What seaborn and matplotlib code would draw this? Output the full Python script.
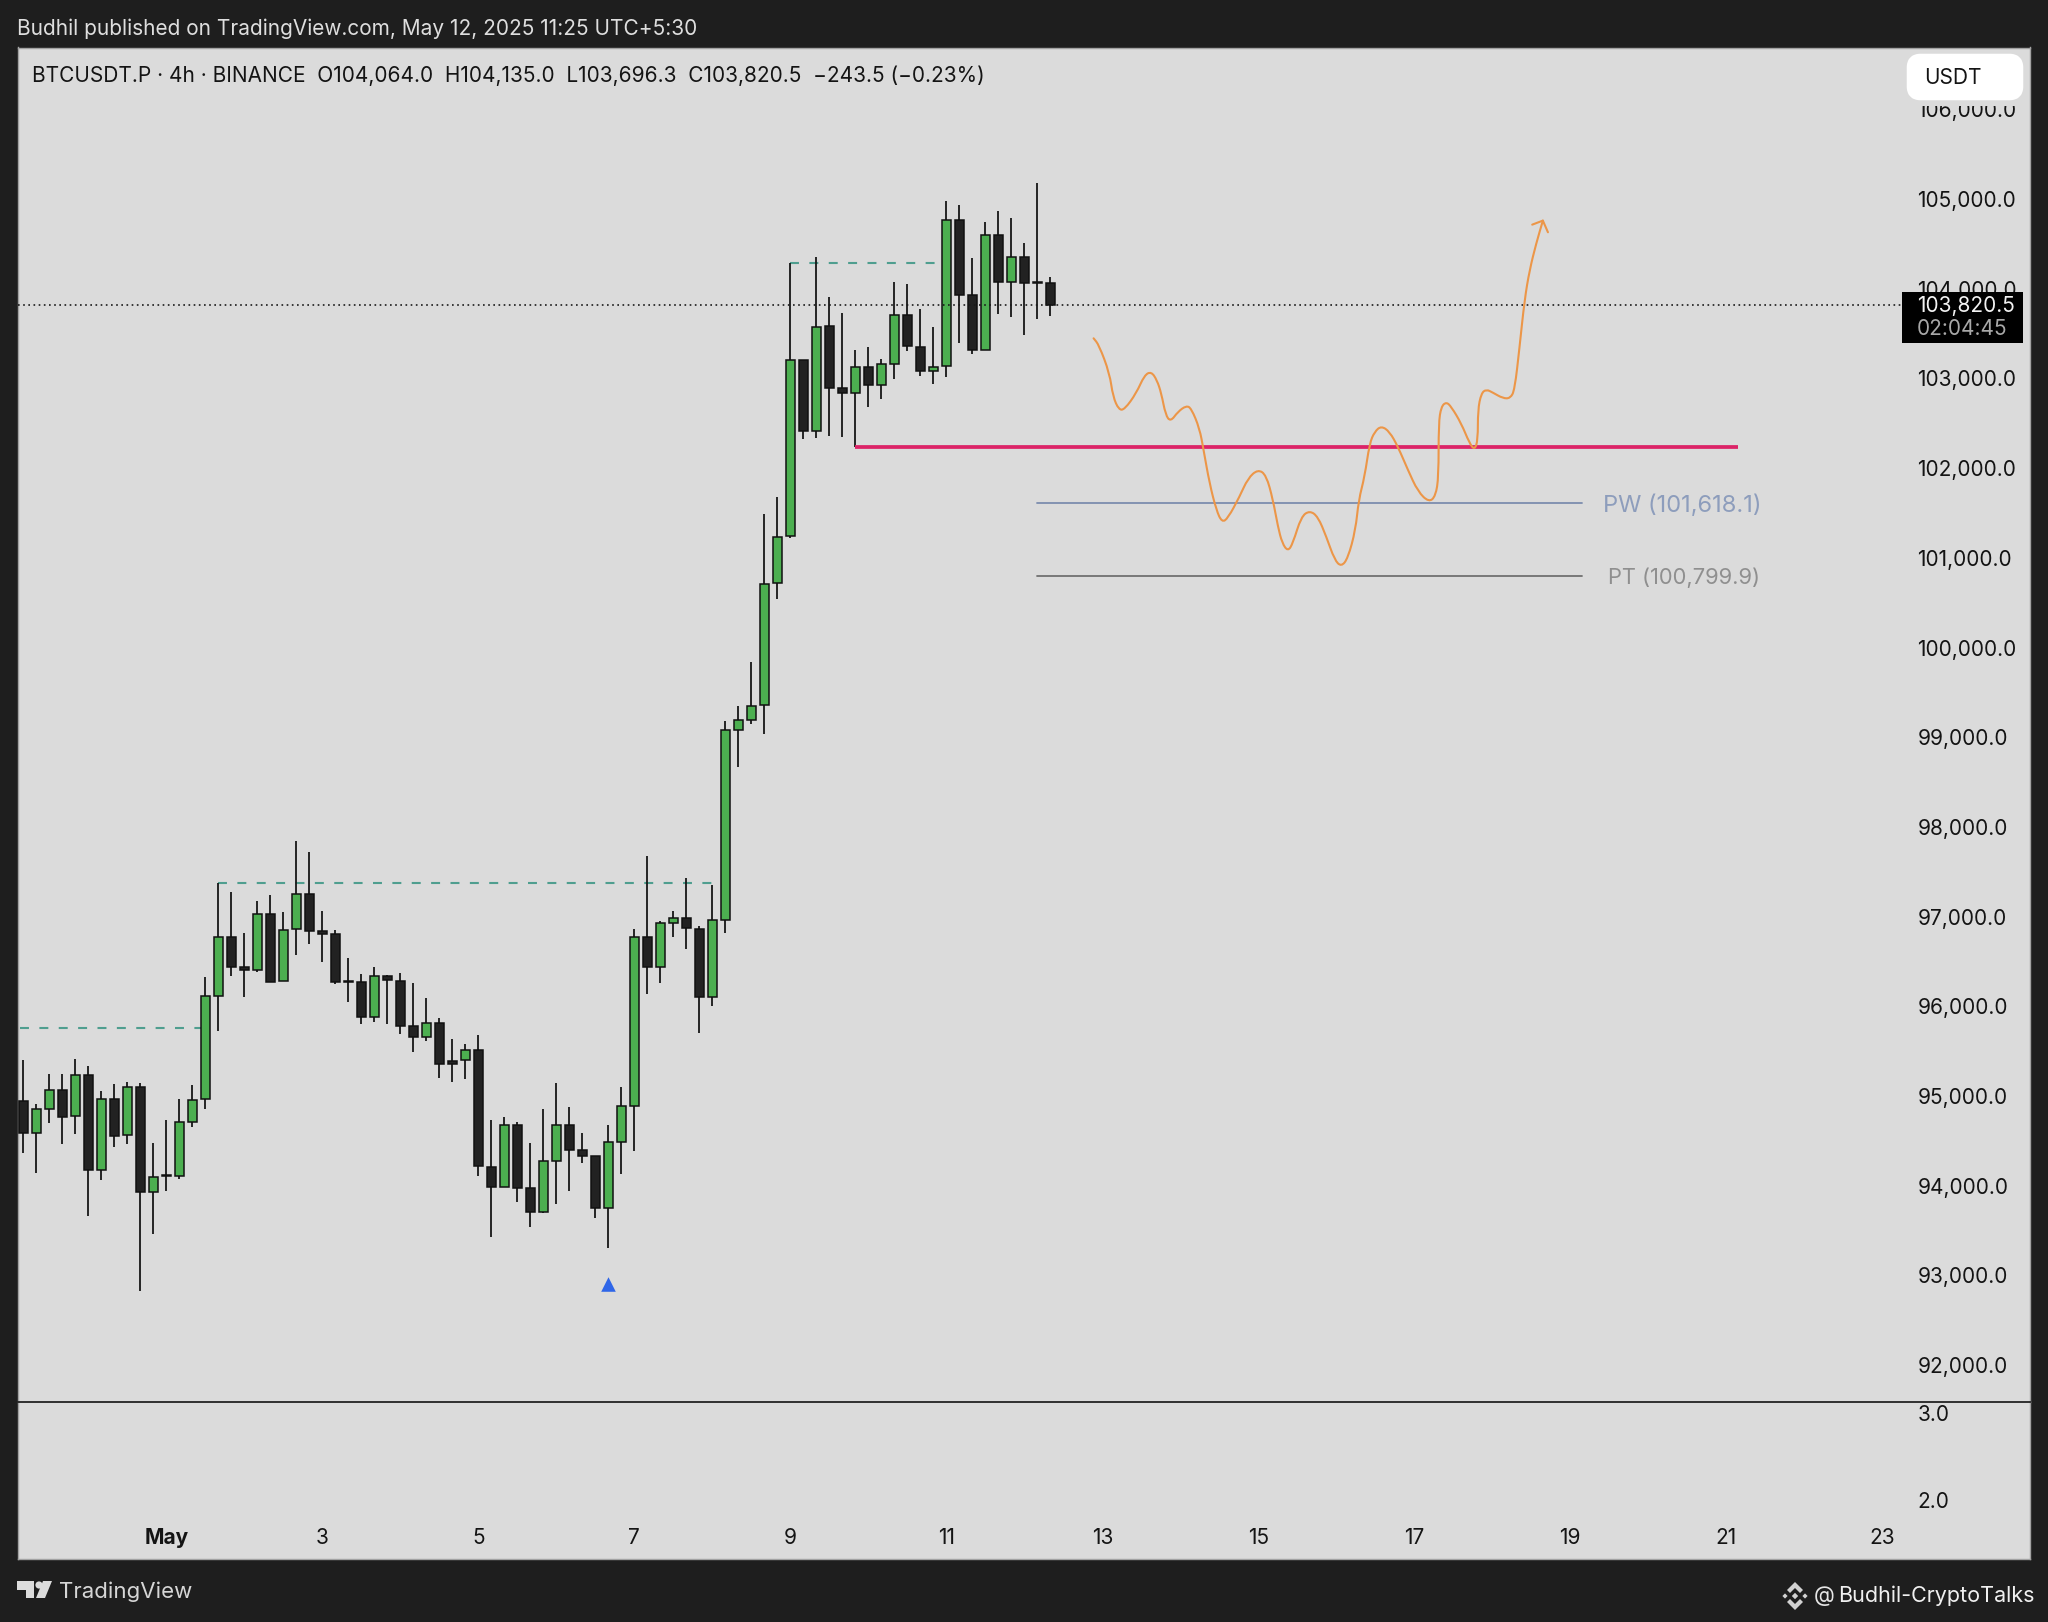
# btc 4h chart, redrawn from a TradingView screenshot

import numpy as np
import pandas as pd
import matplotlib
matplotlib.use("Agg")
import matplotlib.pyplot as plt
from matplotlib.patches import FancyBboxPatch, PathPatch, Polygon, Rectangle
from matplotlib.path import Path
from matplotlib.transforms import IdentityTransform
import seaborn as sns

# Candle values
opens = [94945, 94584, 94859, 95063, 94773, 95231, 94179, 94963, 94562, 95100,
         93934, 94119, 94108, 94714, 94963, 96119, 96776, 96435, 96409, 97029,
         96278, 96862, 97248, 96836, 96806, 96282, 96267, 95881, 96338, 96286,
         95777, 95662, 95818, 95394, 95405, 95513, 94212, 93982, 94677, 93971,
         93711, 94279, 94677, 94402, 94335, 93755, 94491, 94892, 96776, 96438,
         96925, 96981, 96866, 96108, 96966, 99080, 99195, 99355, 100715, 101243,
         103205, 102410, 103580, 102893, 102841, 103127, 102926, 103164, 103703, 103354,
         103082, 103134, 104769, 103933, 103320, 104598, 104074, 104353, 104071, 104064]
highs = [95400, 94911, 95245, 95245, 95409, 95335, 95060, 95134, 95160, 95141,
         94472, 94733, 94963, 95123, 96330, 97371, 97278, 96821, 97174, 97241,
         97055, 97847, 97717, 97066, 96851, 96535, 96360, 96442, 96349, 96375,
         96256, 96096, 95866, 95636, 95580, 95680, 94733, 94770, 94714, 94480,
         94852, 95149, 94874, 94584, 94335, 94677, 95104, 96862, 97679, 96951,
         97066, 97427, 96895, 97349, 99184, 99351, 99842, 101484, 101674, 104290,
         103205, 104349, 103903, 103725, 103316, 103346, 103220, 104071, 104052, 103770,
         103569, 104981, 104933, 104346, 104740, 104862, 104784, 104513, 105182, 104135]
lows = [94370, 94145, 94695, 94461, 94577, 93666, 94064, 94428, 94461, 92830,
        93462, 93937, 94071, 94658, 94852, 95728, 96338, 96108, 96383, 96267,
        96278, 96572, 96691, 96490, 96245, 96048, 95799, 95825, 95799, 95688,
        95494, 95617, 95205, 95160, 95186, 94108, 93432, 93982, 93818, 93543,
        93692, 93796, 93945, 94250, 93640, 93309, 94134, 94383, 96137, 96256,
        96776, 96635, 95706, 96003, 96813, 98664, 99151, 99032, 100540, 101217,
        102320, 102332, 102361, 102343, 102239, 102685, 102774, 102989, 103305, 103030,
        102934, 103012, 103398, 103272, 103320, 103714, 103688, 103487, 103658, 103696]
closes = [94585, 94855, 95063, 94770, 95231, 94179, 94963, 94558, 95100, 93934,
          94097, 94105, 94710, 94956, 96115, 96776, 96438, 96409, 97029, 96275,
          96854, 97248, 96843, 96806, 96267, 96267, 95881, 96334, 96290, 95781,
          95662, 95814, 95361, 95361, 95513, 94216, 93982, 94673, 93975, 93707,
          94272, 94673, 94402, 94335, 93755, 94487, 94885, 96776, 96438, 96925,
          96981, 96869, 96108, 96962, 99076, 99191, 99348, 100711, 101235, 103205,
          102410, 103576, 102896, 102841, 103127, 102926, 103157, 103703, 103357, 103082,
          103131, 104769, 103933, 103316, 104598, 104071, 104349, 104063, 104060, 103820.5]

# Dashed highs: level, first bar, last bar
dash_levels = [95754, 97371, 104290]
dash_starts = [-0.25, 15, 59]
dash_ends = [14, 53, 71]

# Hand drawn path
path_bars = [82.33, 82.74, 83.56, 83.82, 84.28, 84.72, 85.61, 86.25, 86.77, 87.20,
             87.54, 87.87, 88.25, 88.82, 89.46, 89.84, 90.48, 90.79, 91.25, 91.77,
             92.20, 92.66, 93.56, 94.20, 94.97, 95.61, 96.13, 96.51, 96.84, 97.28,
             97.66, 98.30, 98.95, 99.59, 100.23, 100.87, 101.38, 101.89, 102.48, 102.72,
             103.18, 103.56, 103.95, 104.46, 105.10, 105.74, 106.51, 107.28, 108.13, 108.64,
             108.87, 108.87, 109.07, 109.46, 109.84, 110.61, 111.25, 111.64, 111.89, 111.89,
             112.15, 112.54, 113.05, 113.82, 114.38, 114.72, 115.10, 115.48, 115.87, 116.38, 116.89]
path_prices = [103447, 103373, 103057, 102797, 102648, 102655, 102834, 103038, 103075, 102982,
               102834, 102592, 102518, 102629, 102696, 102667, 102444, 102202, 101830, 101533,
               101396, 101440, 101682, 101886, 101986, 101923, 101645, 101347, 101162, 101072,
               101162, 101459, 101526, 101459, 101236, 100976, 100901, 100994, 101310, 101645,
               101905, 102276, 102406, 102470, 102406, 102239, 101979, 101738, 101619, 101689,
               101905, 102499, 102685, 102737, 102685, 102499, 102276, 102202, 102313, 102648,
               102834, 102878, 102841, 102778, 102778, 102871, 103354, 103874, 104209, 104506, 104759]
arrow_bars = [116.07, 116.89, 117.28]
arrow_prices = [104714, 104759, 104629]

support_level = 102231
support_bars = [64, 131.9]
pw_level = 101608
pt_level = 100799.9
pw_pt_bars = [78, 119.9]
last_price = 103820.5
signal_bar = 45
signal_price = 92904

price_ticks = list(range(92000, 107000, 1000))
lower_ticks = [2.0, 3.0]
day_ticks = [11, 23, 35, 47, 59, 71, 83, 95, 107, 119, 131, 143]
day_labels = ["May", "3", "5", "7", "9", "11", "13", "15", "17", "19", "21", "23"]

FRAME = "#1e1e1e"
PANEL = "#dbdbdb"
GREEN = "#4caf50"
BLACK = "#222222"
INK = "#141414"
ORANGE = "#ec9648"
FS = 15

sns.set_style("white")
plt.rcParams["font.family"] = ["Inter", "DejaVu Sans"]

df = pd.DataFrame({"bar": np.arange(len(opens)), "open": opens, "high": highs, "low": lows, "close": closes})
df["up"] = df["close"] >= df["open"]
df["body_low"] = df[["open", "close"]].min(axis=1)
df["body"] = (df["close"] - df["open"]).abs().clip(lower=12)

W, H = 2048, 1622
SPLIT = 1402
fig = plt.figure(figsize=(W / 100, H / 100), dpi=100, facecolor=FRAME)


def px_axes(left, top, right, bottom):
    return fig.add_axes([left / W, 1 - bottom / H, (right - left) / W, (bottom - top) / H], facecolor=PANEL)


def fx(x):
    return x / W


def fy(y):
    return 1 - y / H


ax = px_axes(18, 47.5, 2030, SPLIT)
low_ax = px_axes(18, SPLIT, 2030, 1559)
ax.set_zorder(2)

# Candles
ax.vlines(df["bar"], df["low"], df["high"], color="#161616", lw=1.3, zorder=2)
for up, color in [(True, GREEN), (False, BLACK)]:
    sub = df[df["up"] == up]
    sns.barplot(x=sub["bar"].values, y=sub["body"].values, bottom=sub["body_low"].values,
                native_scale=True, color=color, saturation=1, width=0.7, errorbar=None,
                edgecolor="#111111", linewidth=1.1, zorder=3, ax=ax)

# Dashed highs
for level, start, end in zip(dash_levels, dash_starts, dash_ends):
    ax.plot([start, end], [level, level], color="#4f9e8f", lw=1.5, ls=(0, (4.3, 5)), zorder=1)

ax.axhline(last_price, xmax=(1902 - 18) / (2030 - 18), color="#1a1a1a", lw=1.2, ls=(0, (1, 2.1)), zorder=4)
ax.plot(support_bars, [support_level, support_level], color="#dc2367", lw=2.7, zorder=4, solid_capstyle="butt")
ax.plot(pw_pt_bars, [pw_level, pw_level], color="#7c8dae", lw=1.3, zorder=4)
ax.plot(pw_pt_bars, [pt_level, pt_level], color="#707070", lw=1.3, zorder=4)
ax.text(127.6, pw_level, "PW (101,618.1)", color="#8d9dbc", fontsize=17, ha="center", va="center_baseline")
ax.text(127.75, pt_level, "PT (100,799.9)", color="#8f8f8f", fontsize=15.8, ha="center", va="center_baseline")

# Hand drawn path, curved through the read points, and arrow head
pts = list(zip(path_bars, path_prices))
verts = [pts[0]]
codes = [Path.MOVETO]
for a, b in zip(pts[:-1], pts[1:]):
    verts += [a, ((a[0] + b[0]) / 2, (a[1] + b[1]) / 2)]
    codes += [Path.CURVE3, Path.CURVE3]
verts.append(pts[-1])
codes.append(Path.LINETO)
ax.add_patch(PathPatch(Path(verts, codes), fc="none", ec=ORANGE, lw=1.5, zorder=5, capstyle="round"))
sns.lineplot(x=arrow_bars, y=arrow_prices, sort=False, estimator=None, color=ORANGE, lw=1.5, ax=ax, zorder=5)

sns.scatterplot(x=[signal_bar], y=[signal_price], marker="^", s=110, color="#2f66e8", linewidth=0, ax=ax, zorder=5)

# Axes
xlim = ((18 - 23.3) / 13, (2030 - 23.3) / 13)
ax.set_xlim(xlim)
ax.set_ylim(105000 - (SPLIT - 199) * 11.148, 105000 + (199 - 47.5) * 11.148)
ax.set_xticks([])
ax.yaxis.tick_right()
ax.set_yticks(price_ticks)
ax.set_yticklabels([f"{t:,.1f}" for t in price_ticks])
ax.tick_params(axis="y", length=0, pad=-81, labelsize=FS, labelcolor=INK)
ax.set_xlabel("")
ax.set_ylabel("")

low_ax.set_xlim(xlim)
low_ax.set_ylim(2 - 59 / 87, 3 + 11 / 87)
low_ax.yaxis.tick_right()
low_ax.set_yticks(lower_ticks)
low_ax.set_yticklabels([f"{t:.1f}" for t in lower_ticks])
low_ax.tick_params(axis="y", length=0, pad=-81, labelsize=FS, labelcolor=INK)
low_ax.set_xticks(day_ticks)
low_ax.set_xticklabels(day_labels)
low_ax.tick_params(axis="x", length=0, pad=-22.3, labelsize=FS, labelcolor=INK)
low_ax.get_xticklabels()[0].set_fontweight("bold")

for a in (ax, low_ax):
    for s in a.spines.values():
        s.set_color("#a2a2a2")
        s.set_linewidth(1.0)
ax.spines["bottom"].set_color("#222222")
ax.spines["bottom"].set_linewidth(1.3)
low_ax.spines["top"].set_visible(False)

# Legend line and frame text
fig.text(fx(17), fy(28.5), "Budhil published on TradingView.com, May 12, 2025 11:25 UTC+5:30",
         color="#dedede", fontsize=FS, va="center")
fig.text(fx(32), fy(76), "BTCUSDT.P · 4h · BINANCE  O104,064.0  H104,135.0  L103,696.3  C103,820.5  −243.5 (−0.23%)",
         color=INK, fontsize=FS, va="center")

# USDT box and price tag, in pixels
px = IdentityTransform()
fig.add_artist(Rectangle((1907, H - 106), 116, 20, fc=PANEL, ec="none", transform=px, zorder=5))
fig.add_artist(FancyBboxPatch((1913, H - 94), 104, 34, boxstyle="round,pad=0,rounding_size=7", mutation_aspect=1,
                              fc="white", ec="white", lw=9, joinstyle="round", transform=px, zorder=5))
fig.text(fx(1924), fy(78), "USDT", color=INK, fontsize=FS, va="center", zorder=6)
fig.add_artist(Rectangle((1902, H - 343), 121, 51, fc="black", ec="black", lw=0, transform=px, zorder=5))
fig.text(fx(1917), fy(306), "103,820.5", color="#f2f2f2", fontsize=FS, va="center", zorder=6)
fig.text(fx(1917), fy(329), "02:04:45", color="#a8a8a8", fontsize=FS, va="center", zorder=6)

# TradingView logo and name
logo = "#dcdcdc"
fig.add_artist(Polygon([(17, H - 1581), (34, H - 1581), (34, H - 1598), (26, H - 1598), (26, H - 1590), (17, H - 1590)],
                       fc=logo, ec="none", transform=px))
fig.add_artist(plt.Circle((39, H - 1585), 3.6, fc=logo, ec="none", transform=px))
fig.add_artist(Polygon([(43, H - 1581), (52, H - 1581), (45, H - 1598), (36, H - 1598)], fc=logo, ec="none", transform=px))
fig.text(fx(59), fy(1592), "TradingView", color="#d6d6d6", fontsize=16, va="center")

# Binance mark and watermark
bx, by = 1795, H - 1596
for dx, dy, r in [(0, 0, 3.2), (-10, 0, 2.6), (10, 0, 2.6)]:
    fig.add_artist(Polygon([(bx + dx - r, by + dy), (bx + dx, by + dy + r), (bx + dx + r, by + dy), (bx + dx, by + dy - r)],
                           fc="#d2d2d2", ec="none", transform=px))
for sign in (1, -1):
    fig.add_artist(Polygon([(bx - 8, by + sign * 6), (bx, by + sign * 14), (bx + 8, by + sign * 6), (bx + 5, by + sign * 3),
                            (bx, by + sign * 8), (bx - 5, by + sign * 3)], fc="#d2d2d2", ec="none", transform=px))
fig.text(fx(1814), fy(1596), "@", color="#e6e6e6", fontsize=15.5, va="center")
fig.text(fx(1838), fy(1596), "Budhil-CryptoTalks", color="#f0f0f0", fontsize=15.5, va="center")

fig.savefig("out.png", dpi=100, facecolor=FRAME)
